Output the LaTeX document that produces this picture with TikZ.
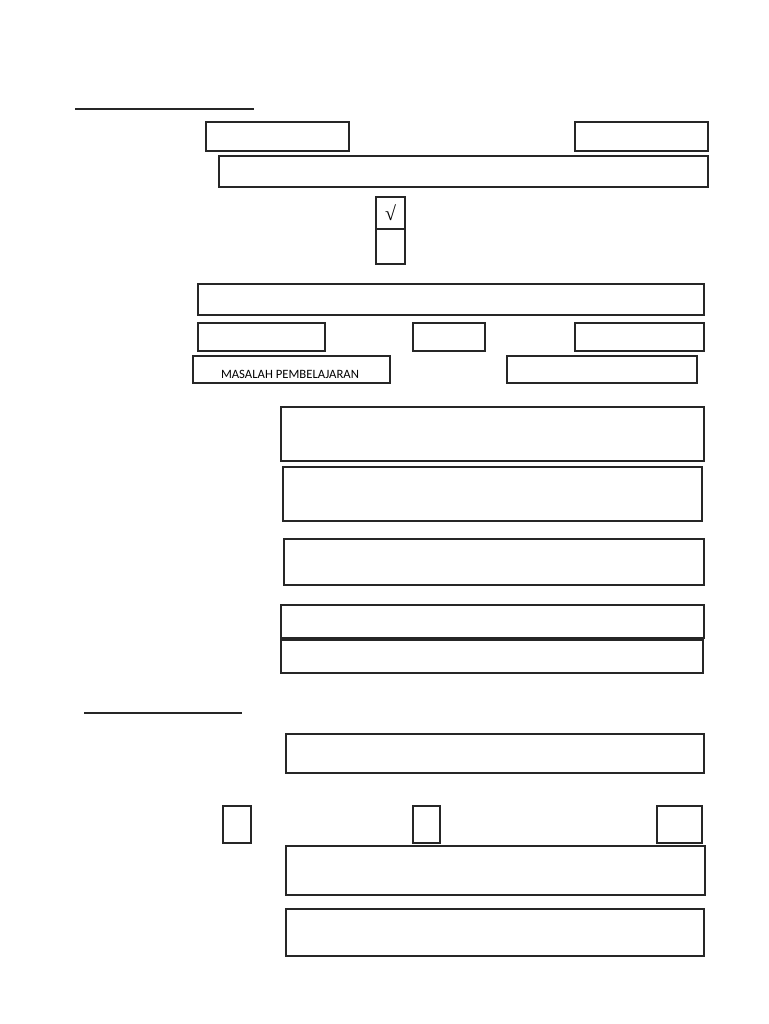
\documentclass[tikz,border=0pt]{standalone}
\usepackage{fontspec}
\newfontfamily\lblfont{Carlito}
\newfontfamily\symfont{Liberation Serif}
\begin{document}
\begin{tikzpicture}[x=1pt,y=-1pt,
  box/.style={draw=black!85, line width=1.4pt, rectangle, inner sep=0pt, outer sep=0pt, anchor=north west},
  rulebar/.style={draw=black!85, line width=2.8pt}]
\useasboundingbox[fill=white] (0,0) rectangle (768,1024);
% heading rules
\coordinate (r1a) at (75,109);
\coordinate (r1b) at (254,109);
\draw[rulebar] (r1a) -- (r1b);
\coordinate (r2a) at (84,713);
\coordinate (r2b) at (242,713);
\draw[rulebar] (r2a) -- (r2b);
% boxes
\node[box, minimum width=143pt, minimum height=29pt] (A) at (206,122) {};
\node[box, minimum width=133pt, minimum height=29pt] (B) at (575,122) {};
\node[box, minimum width=489pt, minimum height=31pt] (C) at (219,156) {};
\node[box, minimum width=29pt, minimum height=32pt] (chk1) at (376,197) {};
\node[font=\symfont\fontsize{20}{20}\selectfont] (tick) at (390.5,213) {√};
\node[box, minimum width=29pt, minimum height=35pt] (chk2) at (376,229) {};
\node[box, minimum width=506pt, minimum height=31pt] (D) at (198,284) {};
\node[box, minimum width=127pt, minimum height=28pt] (E) at (198,323) {};
\node[box, minimum width=72pt, minimum height=28pt] (F) at (413,323) {};
\node[box, minimum width=129pt, minimum height=28pt] (G) at (575,323) {};
\node[box, minimum width=197pt, minimum height=27pt] (H) at (193,356) {};
\node[font=\lblfont\fontsize{12.7}{14}\selectfont] (Ht) at (290,374) {MASALAH PEMBELAJARAN};
\node[box, minimum width=190pt, minimum height=27pt] (I) at (507,356) {};
\node[box, minimum width=423pt, minimum height=54pt] (J) at (281,407) {};
\node[box, minimum width=419pt, minimum height=54pt] (K) at (283,467) {};
\node[box, minimum width=420pt, minimum height=46pt] (L) at (284,539) {};
\node[box, minimum width=423pt, minimum height=33pt] (M) at (281,605) {};
\node[box, minimum width=422pt, minimum height=33pt] (N) at (281,640) {};
\node[box, minimum width=418pt, minimum height=39pt] (O) at (286,734) {};
\node[box, minimum width=28pt, minimum height=37pt] (s1) at (223,806) {};
\node[box, minimum width=27pt, minimum height=37pt] (s2) at (413,806) {};
\node[box, minimum width=45pt, minimum height=37pt] (s3) at (657,806) {};
\node[box, minimum width=419pt, minimum height=49pt] (P) at (286,846) {};
\node[box, minimum width=418pt, minimum height=47pt] (Q) at (286,909) {};
\end{tikzpicture}
\end{document}
